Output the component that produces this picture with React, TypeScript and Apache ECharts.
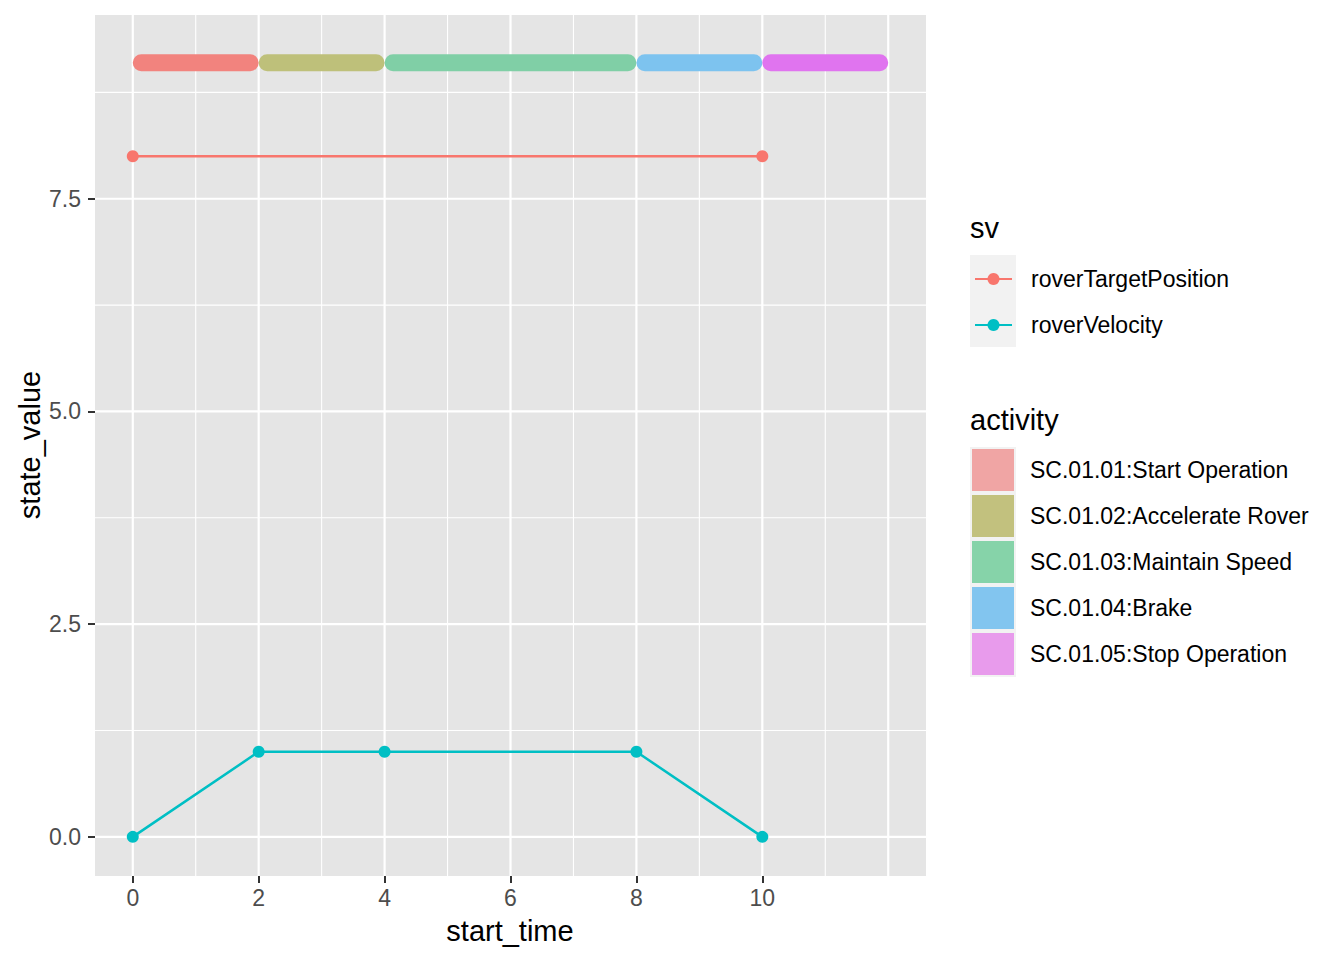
import React, { useEffect, useRef } from 'react';
import * as echarts from 'echarts';

// sv series
const svNames = ['roverTargetPosition', 'roverVelocity'];
const svColors = ['#F8766D', '#00BFC4'];
const targetPosition = [
  [0, 8],
  [10, 8],
];
const velocity = [
  [0, 0],
  [2, 1],
  [4, 1],
  [8, 1],
  [10, 0],
];

// activity segments
const activities = [
  'SC.01.01:Start Operation',
  'SC.01.02:Accelerate Rover',
  'SC.01.03:Maintain Speed',
  'SC.01.04:Brake',
  'SC.01.05:Stop Operation',
];
const activityStart = [0, 2, 4, 8, 10];
const activityEnd = [2, 4, 8, 10, 12];
const activityLevel = 9.1;
const activityColors = ['#F2837E', '#BEC07A', '#80CFA6', '#7DC3EF', '#E074EF'];
const activityKeyColors = ['#F0A5A4', '#C2C17E', '#86D3A9', '#82C5EF', '#E89BEC'];

// axes
const xTicks = [0, 2, 4, 6, 8, 10];
const yTicks = [0, 2.5, 5, 7.5];
const xMajorGrid = [0, 2, 4, 6, 8, 10, 12];
const xMinorGrid = [1, 3, 5, 7, 9, 11];
const yMajorGrid = [0, 2.5, 5, 7.5];
const yMinorGrid = [1.25, 3.75, 6.25, 8.75];

const FONT = '"Liberation Sans", Arial, Helvetica, sans-serif';

export default function App() {
  const chartRef = useRef<HTMLDivElement>(null);

  useEffect(() => {
    const chart = echarts.init(chartRef.current, null, { renderer: 'svg' });

    // grid lines: [value, vertical?, major?]
    const gridData: number[][] = [
      ...xMajorGrid.map((v) => [v, 1, 1]),
      ...xMinorGrid.map((v) => [v, 1, 0]),
      ...yMajorGrid.map((v) => [v, 0, 1]),
      ...yMinorGrid.map((v) => [v, 0, 0]),
    ];

    const activitySeries = activities.map((name, i) => ({
      name,
      type: 'custom',
      z: 3,
      data: [[activityStart[i], activityEnd[i], activityLevel]],
      encode: { x: [0, 1], y: 2 },
      renderItem: (params: any, api: any) => {
        const p0 = api.coord([api.value(0), api.value(2)]);
        const p1 = api.coord([api.value(1), api.value(2)]);
        return {
          type: 'rect',
          shape: { x: p0[0], y: p0[1] - 8.5, width: p1[0] - p0[0], height: 17, r: 8.5 },
          style: { fill: activityColors[i] },
        };
      },
    }));

    chart.setOption({
      animation: false,
      backgroundColor: '#FFFFFF',
      textStyle: { fontFamily: FONT },
      grid: {
        left: 95,
        top: 15,
        width: 831,
        height: 861,
        show: true,
        backgroundColor: '#E5E5E5',
        borderWidth: 0,
      },
      xAxis: {
        type: 'value',
        min: -0.6,
        max: 12.6,
        axisLine: { show: false, onZero: false },
        splitLine: { show: false },
        axisTick: {
          show: true,
          customValues: xTicks,
          length: 7,
          lineStyle: { color: '#333333', width: 2 },
        },
        axisLabel: {
          customValues: xTicks,
          color: '#4D4D4D',
          fontSize: 23,
          fontFamily: FONT,
          margin: 10,
        },
      },
      yAxis: {
        type: 'value',
        min: -0.46,
        max: 9.66,
        axisLine: { show: false, onZero: false },
        splitLine: { show: false },
        axisTick: {
          show: true,
          customValues: yTicks,
          length: 7,
          lineStyle: { color: '#333333', width: 2 },
        },
        axisLabel: {
          customValues: yTicks,
          color: '#4D4D4D',
          fontSize: 23,
          fontFamily: FONT,
          margin: 14,
          formatter: (v: number) => v.toFixed(1),
        },
      },
      legend: [
        {
          data: svNames,
          orient: 'vertical',
          left: 974,
          top: 267,
          padding: 0,
          itemWidth: 37,
          itemHeight: 15,
          itemGap: 22,
          selectedMode: false,
          textStyle: {
            fontSize: 23,
            lineHeight: 24,
            color: '#000000',
            fontFamily: FONT,
            padding: [0, 0, 0, 14],
          },
        },
        {
          data: activities.map((name, i) => ({
            name,
            icon: 'rect',
            itemStyle: { color: activityKeyColors[i] },
          })),
          orient: 'vertical',
          left: 972,
          top: 449,
          padding: 0,
          itemWidth: 42,
          itemHeight: 42,
          itemGap: 4,
          selectedMode: false,
          textStyle: {
            fontSize: 23,
            color: '#000000',
            fontFamily: FONT,
            padding: [0, 0, 0, 11],
          },
        },
      ],
      graphic: [
        { type: 'rect', z: 1, shape: { x: 970, y: 255, width: 46, height: 92 }, style: { fill: '#F2F2F2' } },
        { type: 'rect', z: 1, shape: { x: 970, y: 447, width: 46, height: 230 }, style: { fill: '#F2F2F2' } },
        {
          type: 'text',
          x: 970,
          y: 228,
          style: { text: 'sv', font: `29px ${FONT}`, fill: '#000000', textVerticalAlign: 'middle' },
        },
        {
          type: 'text',
          x: 970,
          y: 420,
          style: { text: 'activity', font: `29px ${FONT}`, fill: '#000000', textVerticalAlign: 'middle' },
        },
        {
          type: 'text',
          x: 510,
          y: 931,
          style: {
            text: 'start_time',
            font: `29px ${FONT}`,
            fill: '#000000',
            textAlign: 'center',
            textVerticalAlign: 'middle',
          },
        },
        {
          type: 'text',
          x: 30,
          y: 445,
          rotation: Math.PI / 2,
          style: {
            text: 'state_value',
            font: `29px ${FONT}`,
            fill: '#000000',
            textAlign: 'center',
            textVerticalAlign: 'middle',
          },
        },
      ],
      series: [
        {
          name: 'grid',
          type: 'custom',
          z: 1,
          silent: true,
          data: gridData,
          renderItem: (params: any, api: any) => {
            const v = api.value(0);
            const vertical = api.value(1) === 1;
            const major = api.value(2) === 1;
            const cs = params.coordSys;
            let shape;
            if (vertical) {
              const px = api.coord([v, 0])[0];
              shape = { x1: px, y1: cs.y, x2: px, y2: cs.y + cs.height };
            } else {
              const py = api.coord([0, v])[1];
              shape = { x1: cs.x, y1: py, x2: cs.x + cs.width, y2: py };
            }
            return {
              type: 'line',
              shape,
              style: { stroke: '#FFFFFF', lineWidth: major ? 2.2 : 1.1 },
            };
          },
        },
        ...activitySeries,
        {
          name: svNames[0],
          type: 'line',
          z: 4,
          data: targetPosition,
          symbol: 'circle',
          symbolSize: 12,
          color: svColors[0],
          lineStyle: { width: 2.5, color: svColors[0] },
          itemStyle: { color: svColors[0] },
        },
        {
          name: svNames[1],
          type: 'line',
          z: 4,
          data: velocity,
          symbol: 'circle',
          symbolSize: 12,
          color: svColors[1],
          lineStyle: { width: 2.5, color: svColors[1] },
          itemStyle: { color: svColors[1] },
        },
      ],
    });

    return () => {
      chart.dispose();
    };
  }, []);

  return (
    <div
      ref={chartRef}
      style={{ position: 'absolute', left: 0, top: 0, width: '1344px', height: '960px' }}
    />
  );
}
